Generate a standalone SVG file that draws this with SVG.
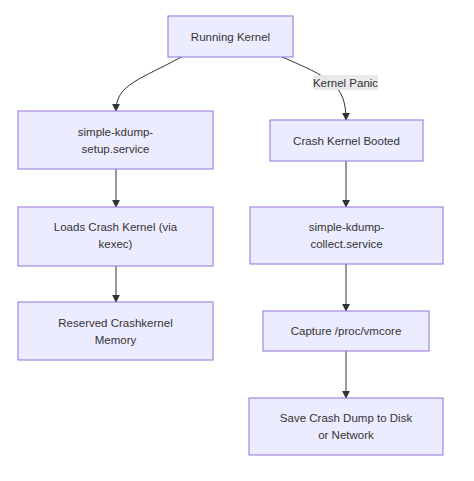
<svg xmlns="http://www.w3.org/2000/svg" width="474" height="481" viewBox="0 0 474 481">
<defs>
<marker id="arr" viewBox="0 0 10 10" refX="9" refY="5" markerWidth="8" markerHeight="8" markerUnits="userSpaceOnUse" orient="auto">
<path d="M0,0 L10,5 L0,10 z" fill="#333"/>
</marker>
</defs>
<style>
.node rect{fill:#ECECFF;stroke:#9370DB;stroke-width:1}
.node text,.lbl text{font-family:"Liberation Sans",Arial,sans-serif;font-size:11.5px;fill:#333;text-anchor:middle}
.edges path{fill:none;stroke:#333;stroke-width:1;marker-end:url(#arr)}
.lbl rect{fill:#e8e8e8;opacity:0.9}
</style>
<rect width="474" height="481" fill="#fff"/>
<g class="edges">
<path d="M183,56 C140,80 116,84 116,111"/>
<path d="M280,56 C330,78 346,84 346,120"/>
<path d="M116,169 L116,207"/>
<path d="M116,266 L116,302"/>
<path d="M346,161 L346,207"/>
<path d="M346,264 L346,311"/>
<path d="M346,351 L346,398"/>
</g>
<g class="lbl" id="label-panic">
<rect x="313" y="75" width="65" height="15"/>
<text x="345.5" y="86.5">Kernel Panic</text>
</g>
<g class="node" id="running">
<rect x="168" y="16" width="125" height="41"/>
<text x="230.5" y="40.5">Running Kernel</text>
</g>
<g class="node" id="setup">
<rect x="18" y="111" width="195" height="58"/>
<text x="115.5" y="136">simple-kdump-</text>
<text x="115.5" y="153">setup.service</text>
</g>
<g class="node" id="loads">
<rect x="18" y="207" width="195" height="59"/>
<text x="115.5" y="231">Loads Crash Kernel (via</text>
<text x="115.5" y="248">kexec)</text>
</g>
<g class="node" id="reserved">
<rect x="18" y="302" width="195" height="58"/>
<text x="115.5" y="327">Reserved Crashkernel</text>
<text x="115.5" y="344">Memory</text>
</g>
<g class="node" id="booted">
<rect x="270" y="120" width="153" height="41"/>
<text x="346.5" y="144.5">Crash Kernel Booted</text>
</g>
<g class="node" id="collect">
<rect x="250" y="207" width="193" height="57"/>
<text x="346.5" y="231">simple-kdump-</text>
<text x="346.5" y="248">collect.service</text>
</g>
<g class="node" id="capture">
<rect x="263" y="311" width="166" height="40"/>
<text x="346" y="335">Capture /proc/vmcore</text>
</g>
<g class="node" id="save">
<rect x="249" y="398" width="194" height="57"/>
<text x="346" y="422">Save Crash Dump to Disk</text>
<text x="346" y="439">or Network</text>
</g>
</svg>
